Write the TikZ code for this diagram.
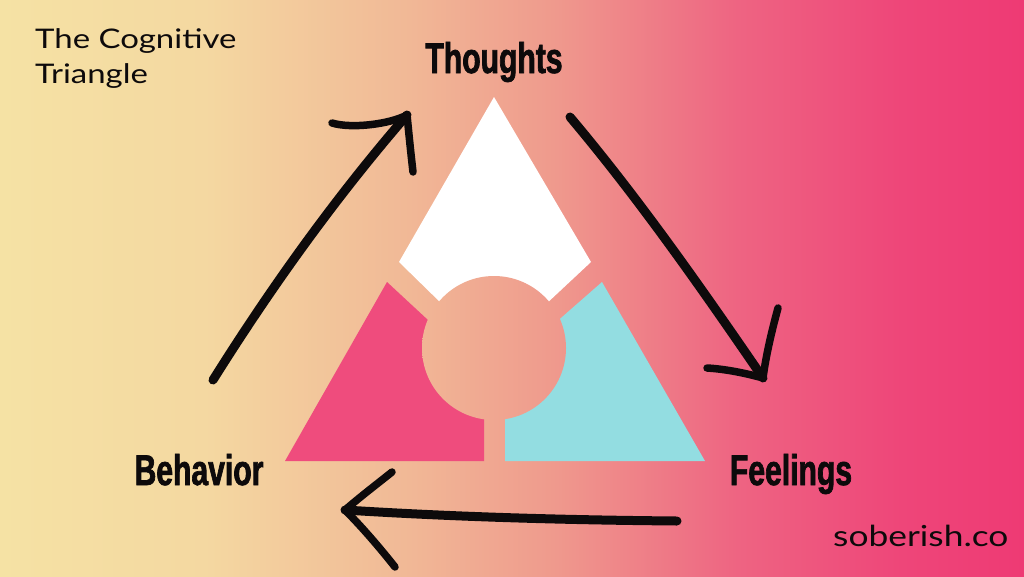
\documentclass[tikz,border=0pt]{standalone}
\usepackage{fontspec}
\setmainfont{Lato}
\newfontfamily\headfont[FakeStretch=0.7,FakeBold=1.6]{Liberation Sans}
\newfontfamily\handfont[FakeStretch=1.22]{Lato}
\definecolor{bgA}{HTML}{F5E2A4}
\definecolor{bgB}{HTML}{F4D8A1}
\definecolor{bgC}{HTML}{F1B896}
\definecolor{bgD}{HTML}{EF9A8D}
\definecolor{bgE}{HTML}{EE6482}
\definecolor{bgF}{HTML}{EE4679}
\definecolor{bgG}{HTML}{EE3A74}
\definecolor{piecepink}{HTML}{EF4C7D}
\definecolor{piececyan}{HTML}{93DDE1}
\definecolor{ink}{HTML}{0D0A0B}
\pgfdeclarehorizontalshading{bgshade}{100bp}{color(0bp)=(bgA); color(25bp)=(bgA); color(35bp)=(bgB); color(45bp)=(bgC); color(52bp)=(bgD); color(61bp)=(bgE); color(69bp)=(bgF); color(75bp)=(bgG); color(100bp)=(bgG)}
\tikzset{
  brush/.style={draw=ink, line width=9pt, line cap=round, line join=round},
  barb/.style={draw=ink, line width=7.5pt, line cap=round, line join=round},
  headlabel/.style={font=\headfont\bfseries\fontsize{43}{43}\selectfont, text=ink, inner sep=0pt, anchor=base},
  handlabel/.style={font=\handfont\fontsize{27}{27}\selectfont, text=ink, inner sep=0pt, anchor=base west},
}
\begin{document}
\begin{tikzpicture}[x=1pt,y=-1pt]
\useasboundingbox (0,0) rectangle (1024,576);
\shade[shading=bgshade] (0,0) rectangle (1024,576);
% triangle pieces
\fill[white] (494,97) -- (591,262) -- (499,348) -- (487,348) -- (399,262) -- cycle;
\fill[piecepink] (387,282) -- (285,461) -- (484,461) -- (484,372) -- cycle;
\fill[piececyan] (602,282) -- (705,461) -- (505,461) -- (505,367) -- cycle;
% central circle showing the background
\begin{scope}
\clip (494,348) circle (72pt);
\shade[shading=bgshade] (0,0) rectangle (1024,576);
\end{scope}
% labels
\node[headlabel] (thoughts) at (494,73) {Thoughts};
\node[headlabel] (behavior) at (199,485) {Behavior};
\node[headlabel] (feelings) at (791,485) {Feelings};
\node[handlabel] (title1) at (35,48) {The Cognitive};
\node[handlabel] (title2) at (35,83) {Triangle};
\node[handlabel, font=\handfont\fontsize{29}{29}\selectfont] (site) at (833,546) {soberish.co};
% arrow coordinates
\coordinate (latail) at (213,380);
\coordinate (latip) at (407,115);
\coordinate (lab1) at (332,123);
\coordinate (lab2) at (413,172);
\coordinate (ratail) at (570,117);
\coordinate (ratip) at (763,378);
\coordinate (rab1) at (707,368);
\coordinate (rab2) at (778,308);
\coordinate (batail) at (677,521);
\coordinate (batip) at (345,510);
\coordinate (bab1) at (392,472);
\coordinate (bab2) at (395,567);
% left arrow (behavior -> thoughts)
\draw[brush] (latail) .. controls (272,286) and (336,197) .. (latip);
\draw[barb] (latip) .. controls (390,124) and (352,129) .. (lab1);
\draw[barb] (latip) .. controls (409,135) and (411,155) .. (lab2);
% right arrow (thoughts -> feelings)
\draw[brush] (ratail) .. controls (640,200) and (704,292) .. (ratip);
\draw[barb] (ratip) .. controls (745,373) and (725,369) .. (rab1);
\draw[barb] (ratip) .. controls (766,355) and (772,330) .. (rab2);
% bottom arrow (feelings -> behavior)
\draw[brush] (batail) .. controls (566,520) and (456,517) .. (batip);
\draw[barb] (batip) .. controls (360,497) and (377,484) .. (bab1);
\draw[barb] (batip) .. controls (362,527) and (380,548) .. (bab2);
\end{tikzpicture}
\end{document}
